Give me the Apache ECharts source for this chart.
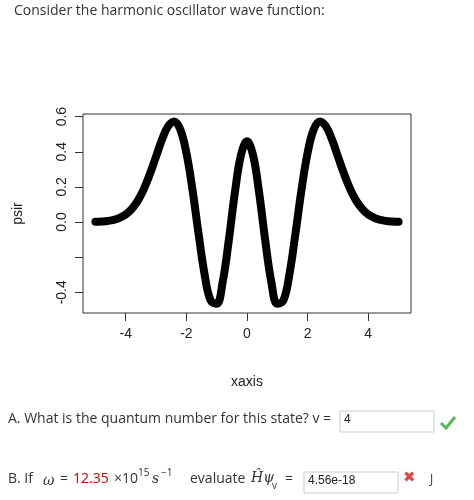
<!DOCTYPE html>
<html><head><meta charset="utf-8">
<script src="https://cdn.jsdelivr.net/npm/echarts@6/dist/echarts.min.js"></script>
<style>html,body{margin:0;padding:0;background:#fff}#c{width:474px;height:500px}</style>
</head><body><div id="c"></div>
<script>
// values (symmetric about x=0)
var xaxisVals = [-5,-4.8,-4.6,-4.4,-4.2,-4,-3.8,-3.6,-3.4,-3.2,-3,-2.8,-2.6,-2.4,-2.2,-2,-1.8,-1.6,-1.4,-1.2,-1,-0.8,-0.6,-0.4,-0.2,0,0.2,0.4,0.6,0.8,1,1.2,1.4,1.6,1.8,2,2.2,2.4,2.6,2.8,3,3.2,3.4,3.6,3.8,4,4.2,4.4,4.6,4.8,5];
var psirHalf = [0.001,0.003,0.006,0.012,0.024,0.043,0.075,0.122,0.189,0.275,0.373,0.471,0.546,0.573,0.527,0.394,0.186,-0.064,-0.297,-0.447,-0.465,-0.339,-0.103,0.167,0.380,0.460];
var psirVals = psirHalf.concat(psirHalf.slice(0,25).reverse());
var xTicks = [-4,-2,0,2,4];
var yTicks = [-0.4,-0.2,0.0,0.2,0.4,0.6];
var yLabelsShown = ['-0.4','','0.0','0.2','0.4','0.6'];

var data = xaxisVals.map(function(x,i){return [x,psirVals[i]];});
var F = 'Liberation Sans, Arial, sans-serif';
var UI = 'Open Sans, Verdana, sans-serif';
var chart = echarts.init(document.getElementById('c'));
chart.setOption({
  animation:false,
  grid:{left:83,right:63,top:114,bottom:187,show:true,borderColor:'#333',borderWidth:1,backgroundColor:'#fff'},
  xAxis:{type:'value',min:-5.41,max:5.41,
    axisLine:{show:false,onZero:false},splitLine:{show:false},
    axisTick:{show:true,length:8,lineStyle:{color:'#333'},customValues:xTicks},
    axisLabel:{customValues:xTicks,margin:14,fontSize:14,color:'#222',fontFamily:F},
    name:'xaxis',nameLocation:'middle',nameGap:62,nameTextStyle:{fontSize:14,color:'#222',fontFamily:F}},
  yAxis:{type:'value',min:-0.518,max:0.615,
    axisLine:{show:false,onZero:false},splitLine:{show:false},
    axisTick:{show:true,length:8,lineStyle:{color:'#333'},customValues:yTicks},
    axisLabel:{customValues:yTicks,rotate:90,margin:14,fontSize:14,color:'#222',fontFamily:F,
      formatter:function(v){var i=yTicks.findIndex(function(t){return Math.abs(t-v)<1e-6;});return i>=0?yLabelsShown[i]:'';}},
    name:'psir',nameLocation:'middle',nameGap:58,nameRotate:90,nameTextStyle:{fontSize:14,color:'#222',fontFamily:F}},
  series:[{type:'line',data:data,smooth:0.4,showSymbol:false,lineStyle:{color:'#000',width:8,cap:'round',join:'round'},z:3}],
  graphic:[
    {type:'text',left:14,top:4,style:{text:'Consider the harmonic oscillator wave function:',font:'14px '+UI,fill:'#333'}},
    {type:'text',left:8,top:412,style:{text:'A. What is the quantum number for this state? v = ',font:'14px '+UI,fill:'#333'}},
    {type:'rect',shape:{x:340,y:411,width:94,height:21},style:{fill:'#fff',stroke:'#ccc',lineWidth:1}},
    {type:'text',left:344,top:414,style:{text:'4',font:'12px '+F,fill:'#222'}},
    {type:'polyline',shape:{points:[[441,423],[446,428],[455,417]]},style:{stroke:'#5cb85c',lineWidth:3,fill:null}},
    {type:'text',left:8,top:472,style:{text:'B. If',font:'14px '+UI,fill:'#333'}},
    {type:'text',left:43,top:474,style:{text:'ω',font:'italic 14px DejaVu Serif, serif',fill:'#333'}},
    {type:'text',left:60,top:472,style:{text:'=',font:'14px '+UI,fill:'#333'}},
    {type:'text',left:73,top:472,style:{text:'12.35',font:'14px '+UI,fill:'#c00'}},
    {type:'text',left:114,top:472,style:{text:'×10',font:'14px '+UI,fill:'#333'}},
    {type:'text',left:138,top:468,style:{text:'15',font:'10px '+UI,fill:'#333'}},
    {type:'text',left:152,top:472,style:{text:'s',font:'italic 14px DejaVu Serif, serif',fill:'#333'}},
    {type:'text',left:161,top:468,style:{text:'−1',font:'10px '+UI,fill:'#333'}},
    {type:'text',left:190,top:472,style:{text:'evaluate',font:'14px '+UI,fill:'#333'}},
    {type:'text',left:251,top:471,style:{text:'Ĥψ',font:'italic 14px DejaVu Serif, serif',fill:'#333'}},
    {type:'text',left:272,top:481,style:{text:'v',font:'10px '+UI,fill:'#333'}},
    {type:'text',left:285,top:472,style:{text:'=',font:'14px '+UI,fill:'#333'}},
    {type:'rect',shape:{x:304,y:472,width:94,height:21},style:{fill:'#fff',stroke:'#ccc',lineWidth:1}},
    {type:'text',left:308,top:475,style:{text:'4.56e-18',font:'12px '+F,fill:'#222'}},
    {type:'text',left:403,top:471,style:{text:'✖',font:'bold 15px DejaVu Sans',fill:'#e04848'}},
    {type:'text',left:430,top:474,style:{text:'J',font:'12px '+UI,fill:'#333'}}
  ]
});
</script></body></html>
